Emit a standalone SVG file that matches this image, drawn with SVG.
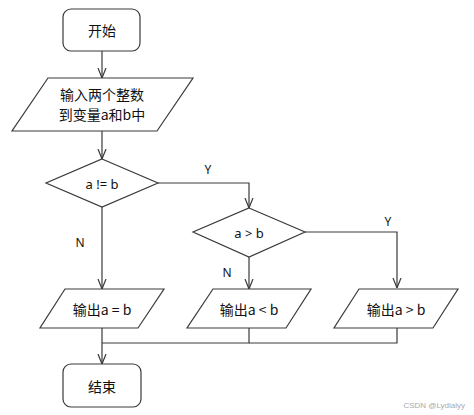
<svg xmlns="http://www.w3.org/2000/svg" width="474" height="415" viewBox="0 0 474 415">
<style>
.s{fill:#fff;stroke:#3a3a3a;stroke-width:1.2}
.c{fill:none;stroke:#3a3a3a;stroke-width:1.2}
.t{font-family:"Noto Sans CJK SC","Noto Sans",sans-serif;font-size:14px;fill:#111;text-anchor:middle;dominant-baseline:central}
.l{font-family:"Noto Sans","Noto Sans CJK SC",sans-serif;font-size:12px;fill:#111;text-anchor:middle;dominant-baseline:central}
</style>
<defs>
<marker id="a" viewBox="0 0 10 10" refX="10" refY="5" markerWidth="10" markerHeight="10" markerUnits="userSpaceOnUse" orient="auto">
<polyline points="0,1 10,5 0,9" fill="none" stroke="#3a3a3a" stroke-width="1.2"/>
</marker>
</defs>
<rect width="474" height="415" fill="#fff"/>
<g id="connectors">
<line class="c" x1="102" y1="51" x2="102" y2="78" marker-end="url(#a)"/>
<line class="c" x1="102" y1="131" x2="102" y2="159" marker-end="url(#a)"/>
<polyline class="c" points="158,183 249,183 249,208" marker-end="url(#a)"/>
<line class="c" x1="102" y1="207" x2="102" y2="289" marker-end="url(#a)"/>
<line class="c" x1="249" y1="257" x2="249" y2="289" marker-end="url(#a)"/>
<polyline class="c" points="305,232 397,232 397,288" marker-end="url(#a)"/>
<polyline class="c" points="249,328 249,343 102,343"/>
<polyline class="c" points="397,328 397,343 249,343"/>
<line class="c" x1="102" y1="328" x2="102" y2="364" marker-end="url(#a)"/>
<text class="l" x="208" y="169">Y</text>
<text class="l" x="80" y="242">N</text>
<text class="l" x="388" y="221">Y</text>
<text class="l" x="227" y="272">N</text>
</g>
<g id="start">
<rect class="s" x="63" y="9" width="77" height="42" rx="8"/>
<text class="t" x="102" y="30">开始</text>
</g>
<g id="input">
<polygon class="s" points="48,78 193,78 157,131 12,131"/>
<text class="t" x="102" y="94">输入两个整数</text>
<text class="t" x="102" y="114">到变量a和b中</text>
</g>
<g id="cond1">
<polygon class="s" points="102,159 158,183 102,207 46,183"/>
<text class="l" x="102" y="184" style="font-size:13px">a != b</text>
</g>
<g id="cond2">
<polygon class="s" points="249,208 305,232 249,257 193,232"/>
<text class="l" x="249" y="233" style="font-size:13px">a &gt; b</text>
</g>
<g id="out1">
<polygon class="s" points="65,289 164,289 138,328 40,328"/>
<text class="t" x="102" y="309">输出a = b</text>
</g>
<g id="out2">
<polygon class="s" points="213,289 311,289 286,328 187,328"/>
<text class="t" x="249" y="309">输出a &lt; b</text>
</g>
<g id="out3">
<polygon class="s" points="359,289 458,289 433,328 334,328"/>
<text class="t" x="396" y="309">输出a &gt; b</text>
</g>
<g id="end">
<rect class="s" x="63" y="364" width="78" height="43" rx="8"/>
<text class="t" x="102" y="386">结束</text>
</g>
<text x="465" y="405" style="font-family:'Liberation Sans',sans-serif;font-size:8px;fill:#aaa;text-anchor:end;dominant-baseline:central">CSDN @Lydialyy</text>
</svg>
